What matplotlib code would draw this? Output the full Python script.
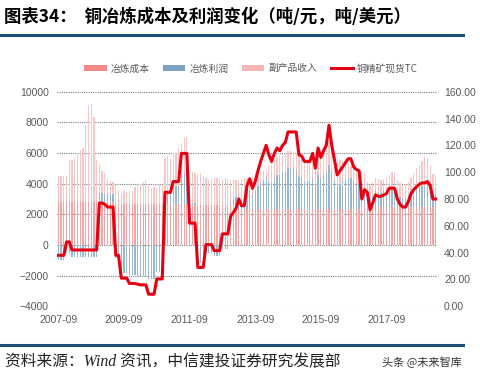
import numpy as np
import matplotlib
matplotlib.use("Agg")
import matplotlib.pyplot as plt
from matplotlib.lines import Line2D
from matplotlib.patches import Patch

plt.rcParams['font.family'] = ['Liberation Sans', 'Noto Sans CJK SC', 'DejaVu Sans']

# monthly data, 2007-09 .. 2019-03
tick_labels = ['2007-09', '2009-09', '2011-09', '2013-09', '2015-09', '2017-09']

cost = [2800] * 21 + [2700] * 27 + [2600] * 18 + [2350] * 45 + [2500] * 28

profit = [
    -1000, -1000, -1000, -500, -500, -780, -780, -780, -780, -780, -780, -780,
    -780, -780, -780, 600, 600, 600, 500, 500, 500, -870, -870, -1850,
    -1850, -1850, -1950, -1950, -1950, -2000, -2050, -2050, -2050, -2200, -2200, -2200,
    -1750, -1750, -1750, 800, 800, 800, 1150, 1150, 1150, 2000, 2000, 2000,
    150, 150, 150, -1200, -1200, -1200, -550, -550, -550, -750, -750, -750,
    -250, -250, -250, 200, 350, 500, 600, 500, 500, 1100, 1300, 1000,
    1200, 1500, 1700, 1900, 2100, 1800, 1700, 2000, 2200, 2200, 2400, 2400,
    2700, 2700, 2700, 2600, 2100, 2000, 1800, 1800, 1800, 2000, 1600, 2200,
    2000, 2200, 2400, 2900, 2400, 1900, 1500, 1600, 1800, 1900, 2000, 2000,
    1800, 1700, 1600, 800, 1100, 1000, 500, 700, 1000, 900, 900, 1000,
    1000, 1200, 1200, 1200, 800, 650, 550, 550, 700, 1000, 1100, 1200,
    1300, 1350, 1350, 1400, 1250, 800, 800,
]

byproduct = [
    1700, 1700, 1700, 1700, 2750, 2750, 2960, 3070, 3400, 3500, 5030, 6350,
    6400, 5570, 2750, 1900, 1400, 1300, 1100, 900, 800, 1200, 900, 700,
    800, 750, 850, 800, 1100, 1200, 1300, 1380, 1540, 1200, 1050, 1100,
    1050, 1200, 1200, 2200, 2330, 2110, 2130, 2130, 2450, 1930, 2260, 2370,
    2080, 1990, 1930, 1970, 2080, 1850, 1750, 1650, 1700, 1750, 1800, 1750,
    1700, 1750, 1700, 1450, 1350, 1150, 1300, 1450, 1500, 950, 800, 1150,
    1000, 800, 700, 590, 500, 1100, 1400, 1250, 1160, 1300, 1200, 1200,
    1100, 1100, 1000, 1000, 1400, 1400, 1500, 1450, 1300, 1030, 1430, 1400,
    1700, 1600, 1500, 1550, 1300, 1460, 1800, 1600, 1300, 1130, 930, 800,
    900, 900, 1000, 1480, 1080, 630, 910, 930, 850, 900, 840, 800,
    850, 870, 1040, 1000, 940, 870, 860, 860, 930, 850, 1080, 1300,
    1420, 1630, 1910, 1800, 1470, 1310, 1270,
]

tc = [
    38, 38, 38, 48, 48, 42, 42, 42, 42, 42, 42, 42,
    42, 42, 42, 77, 77, 76, 74, 74, 74, 38, 38, 21,
    21, 21, 17, 17, 17, 16.5, 16, 16, 16, 9, 9, 9,
    20.4, 20.4, 20.4, 85, 85, 85, 93, 93, 93, 114, 114, 114,
    62, 62, 62, 29, 29, 29, 46, 46, 46, 41.5, 41.5, 41.5,
    54, 54, 54, 67, 70, 73, 80, 75, 75, 90, 95, 88,
    93, 101, 108, 114, 120, 113, 108, 114, 118, 116, 120, 122,
    130, 130, 130, 130, 113, 112, 108, 108, 108, 114, 103, 118,
    111, 116, 120, 135, 120, 109, 98, 101, 104, 107, 110, 110,
    104, 102, 101, 80, 87, 85, 72, 77, 83, 82, 82, 83,
    84, 88, 88, 88, 80, 76, 74, 74, 78, 84, 87, 89,
    91, 92, 92, 93, 90, 80, 80,
]

cost = np.array(cost, dtype=float)
profit = np.array(profit, dtype=float)
byproduct = np.array(byproduct, dtype=float)
x = np.arange(len(cost))

c_cost = '#f4a2a2'
c_profit = '#98b6d0'
c_by = '#f9c6c6'
c_tc = '#e60012'
grey = '#595959'

fig = plt.figure(figsize=(4.8, 3.79), dpi=100)
ax = fig.add_axes([57 / 480, 1 - 306.3 / 379, 380 / 480, 214.6 / 379])

w = 0.45
ax.bar(x, cost, width=w, color=c_cost, linewidth=0, zorder=2)
pos = np.clip(profit, 0, None)
neg = np.clip(profit, None, 0)
ax.bar(x, pos, bottom=cost, width=w, color=c_profit, linewidth=0, zorder=2)
ax.bar(x, neg, width=w, color=c_profit, linewidth=0, zorder=2)
ax.bar(x, byproduct, bottom=cost + pos, width=w, color=c_by, linewidth=0, zorder=2)

ax.set_xlim(-0.5, len(x) - 0.5)
ax.set_ylim(-4000, 10000)
ax.set_yticks(np.arange(-4000, 10001, 2000))
ax.set_xticks(np.arange(0, len(x), 24))
ax.set_xticklabels(tick_labels)
ax.grid(axis='y', color='#7f7f7f', linestyle=(0, (1, 1)), linewidth=0.8, zorder=0)
ax.set_axisbelow(True)
ax.tick_params(axis='y', length=0, pad=6, labelsize=7.5, labelcolor=grey)
ax.tick_params(axis='x', length=0, pad=6, labelsize=7.5, labelcolor=grey)
for s in ax.spines.values():
    s.set_visible(False)

ax2 = ax.twinx()
ax2.plot(x, tc, color=c_tc, linewidth=2.2, zorder=5)
ax2.set_ylim(0, 160)
ax2.set_yticks(np.arange(0, 161, 20))
ax2.set_yticklabels(['%.2f' % v for v in np.arange(0, 161, 20)])
ax2.tick_params(axis='y', length=0, pad=5, labelsize=7.5, labelcolor=grey)
for s in ax2.spines.values():
    s.set_visible(False)

handles = [
    Patch(facecolor='#f08a8a', edgecolor='none'),
    Patch(facecolor='#7fa3c2', edgecolor='none'),
    Patch(facecolor='#f6b6b6', edgecolor='none'),
    Line2D([0], [0], color=c_tc, linewidth=2.2),
]
labels = ['冶炼成本', '冶炼利润', '副产品收入', '铜精矿现货TC']
leg = fig.legend(handles, labels, loc='center', bbox_to_anchor=(251 / 480, 1 - 68.5 / 379),
                 ncol=4, frameon=False, handlelength=2.3, handleheight=0.5,
                 columnspacing=1.4, handletextpad=0.4,
                 prop={'family': ['Noto Sans CJK SC', 'DejaVu Sans'], 'size': 7})
for t in leg.get_texts():
    t.set_color(grey)

fig.text(4 / 480, 1 - 17 / 379, '图表34：  铜冶炼成本及利润变化（吨/元，吨/美元）',
         fontsize=12.5, fontweight='bold', va='center', ha='left',
         family=['Noto Sans CJK SC', 'DejaVu Sans'])
fig.add_artist(Line2D([0, 463 / 480], [1 - 34.5 / 379] * 2, color='#1f4e79', linewidth=2.2))
fig.add_artist(Line2D([0, 463 / 480], [1 - 345 / 379] * 2, color='#1f4e79', linewidth=2.2))
fig.text(5 / 480, 1 - 362 / 379, '资料来源：Wind 资讯，中信建投证券研究发展部',
         fontsize=11.3, style='italic', va='center', ha='left', color='#222222',
         family=['Liberation Serif', 'Noto Sans CJK SC'])
fig.text(382 / 480, 1 - 362 / 379, '头条 @未来智库', fontsize=8, va='center', ha='left',
         color='#333333', family=['Noto Sans CJK SC', 'DejaVu Sans'])

fig.savefig('out.png', dpi=100)
